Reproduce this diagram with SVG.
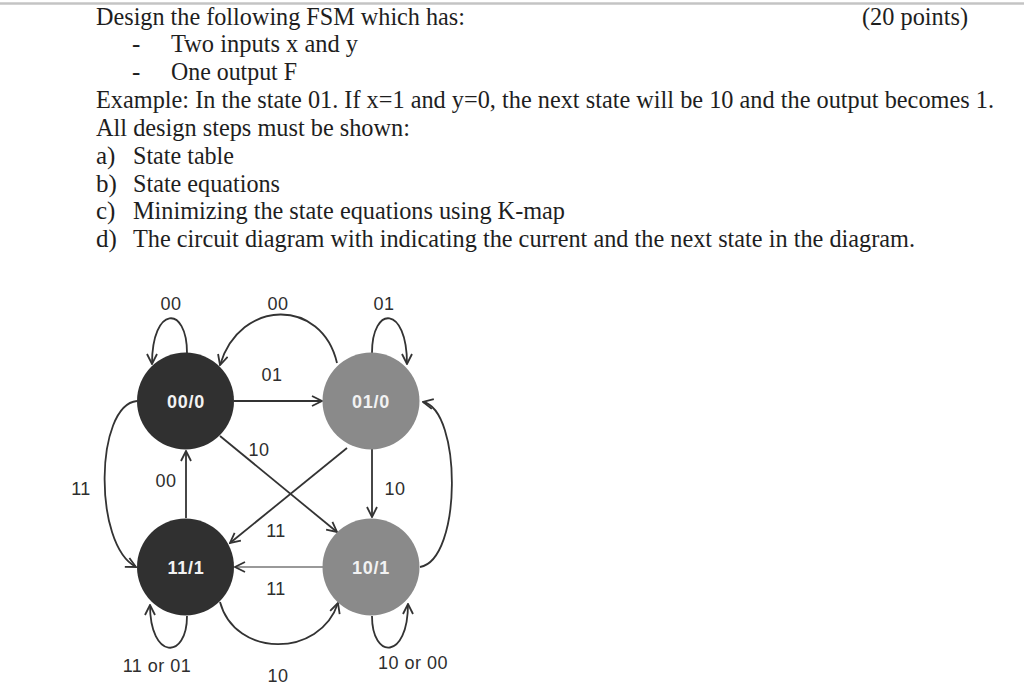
<svg xmlns="http://www.w3.org/2000/svg" width="1024" height="686" viewBox="0 0 1024 686">
<defs>
<style>
.t{font-family:"Liberation Serif","Times New Roman",serif;font-size:25px;fill:#1e1e1e}
.lbl{font-family:"Liberation Sans",Arial,sans-serif;font-size:18px;fill:#2e2e2e;text-anchor:middle;letter-spacing:0.5px}
.nl{font-family:"Liberation Sans",Arial,sans-serif;font-size:18px;font-weight:bold;fill:#f2f2f2;text-anchor:middle;letter-spacing:0.8px}
.dark{fill:#303030}
.light{fill:#8a8a8a}
.e{fill:none;stroke:#333;stroke-width:1.8;marker-end:url(#arr)}
.ethin{fill:none;stroke:#777;stroke-width:1.3;marker-end:url(#arr)}
</style>
<marker id="arr" viewBox="0 0 12 12" refX="11" refY="6" markerWidth="12" markerHeight="12" markerUnits="userSpaceOnUse" orient="auto">
<path d="M1,1 L11,6 L1,11" fill="none" stroke="#333" stroke-width="1.8"/>
</marker>
</defs>
<rect width="1024" height="686" fill="#fff"/>
<line x1="0" y1="3.5" x2="1024" y2="3.5" stroke="#c4c4c4" stroke-width="2.5"/>

<g id="question">
<text class="t" x="96" y="25" textLength="369" lengthAdjust="spacingAndGlyphs">Design the following FSM which has:</text>
<text class="t" x="862" y="25" textLength="106" lengthAdjust="spacingAndGlyphs">(20 points)</text>
<text class="t" x="132" y="52">-</text>
<text class="t" x="171" y="52" textLength="187" lengthAdjust="spacingAndGlyphs">Two inputs x and y</text>
<text class="t" x="132" y="80">-</text>
<text class="t" x="171" y="80" textLength="126" lengthAdjust="spacingAndGlyphs">One output F</text>
<text class="t" x="96" y="108" textLength="898" lengthAdjust="spacingAndGlyphs">Example: In the state 01. If x=1 and y=0, the next state will be 10 and the output becomes 1.</text>
<text class="t" x="96" y="136" textLength="314" lengthAdjust="spacingAndGlyphs">All design steps must be shown:</text>
<text class="t" x="96" y="164">a)</text>
<text class="t" x="133" y="164" textLength="101" lengthAdjust="spacingAndGlyphs">State table</text>
<text class="t" x="96" y="192">b)</text>
<text class="t" x="133" y="192" textLength="147" lengthAdjust="spacingAndGlyphs">State equations</text>
<text class="t" x="96" y="219">c)</text>
<text class="t" x="133" y="219" textLength="432" lengthAdjust="spacingAndGlyphs">Minimizing the state equations using K-map</text>
<text class="t" x="96" y="247">d)</text>
<text class="t" x="133" y="247" textLength="782" lengthAdjust="spacingAndGlyphs">The circuit diagram with indicating the current and the next state in the diagram.</text>
</g>

<g id="connectors">
<path class="e" d="M187 353 C187 305, 152 305, 152 364"/>
<path class="e" d="M337 363 C322 298, 240 298, 220 365"/>
<path class="e" d="M234 401 L322 401"/>
<path class="e" d="M372 353 C372 305, 407 305, 407 364"/>
<path class="e" d="M220 436 L337 532"/>
<path class="e" d="M347 448 L230 543"/>
<path class="e" d="M186 518 L186 451"/>
<path class="e" d="M372 449 L372 517"/>
<path class="e" d="M137 401 C95 405, 93 545, 136 567"/>
<path class="e" d="M420 567 C462 560, 462 410, 423 402"/>
<path class="ethin" d="M323 567 L235 567"/>
<path class="e" d="M220 602 C235 658, 320 658, 338 603"/>
<path class="e" d="M187 616 C187 660, 150 660, 150 605"/>
<path class="e" d="M372 616 C372 660, 408 660, 408 604"/>
</g>

<g id="edge-labels">
<text class="lbl" x="171" y="310">00</text>
<text class="lbl" x="278" y="310">00</text>
<text class="lbl" x="384" y="310">01</text>
<text class="lbl" x="272" y="381">01</text>
<text class="lbl" x="259" y="456">10</text>
<text class="lbl" x="166" y="487">00</text>
<text class="lbl" x="81" y="495">11</text>
<text class="lbl" x="395" y="495">10</text>
<text class="lbl" x="276" y="537">11</text>
<text class="lbl" x="276" y="595">11</text>
<text class="lbl" x="157" y="672">11 or 01</text>
<text class="lbl" x="278" y="682">10</text>
<text class="lbl" x="413" y="669">10 or 00</text>
</g>

<g id="node-00">
<circle class="dark" cx="185.5" cy="401" r="48.5"/>
<text class="nl" x="186" y="408">00/0</text>
</g>
<g id="node-01">
<circle class="light" cx="371" cy="401" r="48.5"/>
<text class="nl" x="371" y="408">01/0</text>
</g>
<g id="node-11">
<circle class="dark" cx="185.5" cy="567" r="48.5"/>
<text class="nl" x="186" y="574">11/1</text>
</g>
<g id="node-10">
<circle class="light" cx="371" cy="567" r="48.5"/>
<text class="nl" x="371" y="574">10/1</text>
</g>
</svg>
